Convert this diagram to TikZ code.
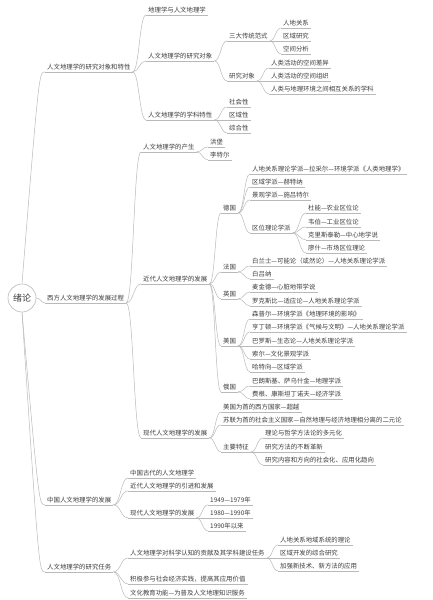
\documentclass[tikz,border=0pt]{standalone}
\usepackage{fontspec}
\setmainfont{Noto Sans CJK SC}
\usetikzlibrary{calc}
\definecolor{linegray}{RGB}{185,185,185}
\definecolor{textgray}{RGB}{60,60,60}

\begin{document}
\begin{tikzpicture}[
        x=1pt,
        y=-1pt,
        topic/.style={
          anchor=west,
          font=\fontsize{6.4}{7}\selectfont,
          text=textgray,
          text height=5.4pt,
          text depth=1pt,
          inner xsep=2pt,
          inner ysep=1.5pt,
          append after command={
            (\tikzlastnode.south west) edge[draw=linegray,line width=0.5pt] (\tikzlastnode.south east)
          }
        },
        hub/.style={
          circle,
          draw=linegray,
          line width=0.6pt,
          minimum size=28pt,
          inner sep=0pt,
          font=\fontsize{9}{10}\selectfont,
          text=textgray
        },
        link/.style={
          draw=linegray,
          line width=0.5pt
        },
        branch/.style={
          to path={.. controls ($(\tikztostart)!0.5!(\tikztotarget|-\tikztostart)$)
            and ($(\tikztotarget)!0.5!(\tikztostart|-\tikztotarget)$) .. (\tikztotarget)}
        },
        trunk/.style={
          to path={.. controls ($(\tikztotarget)+(-6,0)$) .. (\tikztotarget)}
        }
      ]
        \useasboundingbox (0,0) rectangle (432,600);

        \node[hub] (root) at (22,298) {绪论};

        \node[topic] (t1) at (45,67) {人文地理学的研究对象和特性};
        \node[topic] (t2) at (45,298) {西方人文地理学的发展过程};
        \node[topic] (t3) at (45,500) {中国人文地理学的发展};
        \node[topic] (t4) at (45,567) {人文地理学的研究任务};

        \draw[link] (root.north) to[trunk] (t1.south west);
        \draw[link] (root.east) to[branch] (t2.south west);
        \draw[link] (root.south) to[trunk] (t3.south west);
        \draw[link] (root.south) to[trunk] (t4.south west);

        % 研究对象和特性
        \foreach \i/\y/\l in {1/10/地理学与人文地理学,2/56/人文地理学的研究对象,3/115/人文地理学的学科特性}
          \node[topic] (obj\i) at (146,\y) {\l};
        \node[topic] (para) at (227,36) {三大传统范式};
        \node[topic] (aim) at (227,76) {研究对象};
        \foreach \i/\y/\l in {1/23/人地关系,2/36/区域研究,3/49/空间分析}
          \node[topic] (para\i) at (281,\y) {\l};
        \foreach \i/\y/\l in {1/63/人类活动的空间差异,2/76/人类活动的空间组织,3/89/人类与地理环境之间相互关系的学科}
          \node[topic] (aim\i) at (269,\y) {\l};
        \foreach \i/\y/\l in {1/102/社会性,2/115/区域性,3/128/综合性}
          \node[topic] (feat\i) at (227,\y) {\l};

        \foreach \i in {1,2,3}
          \draw[link] (t1.south east) to[branch] (obj\i.south west);
        \draw[link] (obj2.south east) to[branch] (para.south west);
        \draw[link] (obj2.south east) to[branch] (aim.south west);
        \foreach \i in {1,2,3} {
          \draw[link] (para.south east) to[branch] (para\i.south west);
          \draw[link] (aim.south east) to[branch] (aim\i.south west);
          \draw[link] (obj3.south east) to[branch] (feat\i.south west);
        }

        % 西方人文地理学
        \foreach \i/\y/\l in {1/147/人文地理学的产生,2/279/近代人文地理学的发展,3/433/现代人文地理学的发展}
          \node[topic] (west\i) at (141,\y) {\l};
        \foreach \i/\y/\l in {1/142/洪堡,2/155/李特尔}
          \node[topic] (birth\i) at (208,\y) {\l};
        \foreach \i/\y/\l in {1/208/德国,2/267/法国,3/294/英国,4/341/美国,5/387/俄国}
          \node[topic] (land\i) at (221,\y) {\l};
        \foreach \i/\y/\l in {1/169/人地关系理论学派—拉采尔—环境学派《人类地理学》,2/182/区域学派—赫特纳,3/195/景观学派—施吕特尔,4/228/区位理论学派}
          \node[topic] (ger\i) at (250,\y) {\l};
        \foreach \i/\y/\l in {1/208/杜能—农业区位论,2/222/韦伯—工业区位论,3/235/克里斯泰勒—中心地学说,4/248/廖什—市场区位理论}
          \node[topic] (loc\i) at (306,\y) {\l};
        \foreach \i/\y/\l in {1/261/白兰士—可能论（或然论）—人地关系理论学派,2/274/白吕纳}
          \node[topic] (fra\i) at (250,\y) {\l};
        \foreach \i/\y/\l in {1/287/麦金德—心脏地带学说,2/301/罗克斯比—适应论—人地关系理论学派}
          \node[topic] (eng\i) at (250,\y) {\l};
        \foreach \i/\y/\l in {1/314/森普尔—环境学派《地理环境的影响》,2/327/亨丁顿—环境学派《气候与文明》—人地关系理论学派,3/341/巴罗斯—生态论—人地关系理论学派,4/354/索尔—文化景观学派,5/367/哈特向—区域学派}
          \node[topic] (usa\i) at (250,\y) {\l};
        \foreach \i/\y/\l in {1/381/巴朗斯基、萨乌什金—地理学派,2/394/费根、康斯坦丁诺夫—经济学派}
          \node[topic] (rus\i) at (250,\y) {\l};
        \foreach \i/\y/\l in {1/407/美国为首的西方国家—超越,2/420/苏联为首的社会主义国家—自然地理与经济地理相分离的二元论,3/447/主要特征}
          \node[topic] (mod\i) at (221,\y) {\l};
        \foreach \i/\y/\l in {1/433/理论与哲学方法论的多元化,2/447/研究方法的不断革新,3/460/研究内容和方向的社会化、应用化趋向}
          \node[topic] (trait\i) at (263,\y) {\l};

        \foreach \i in {1,2,3}
          \draw[link] (t2.south east) to[branch] (west\i.south west);
        \foreach \i in {1,2}
          \draw[link] (west1.south east) to[branch] (birth\i.south west);
        \foreach \i in {1,...,5}
          \draw[link] (west2.south east) to[branch] (land\i.south west);
        \foreach \i in {1,...,4} {
          \draw[link] (land1.south east) to[branch] (ger\i.south west);
          \draw[link] (ger4.south east) to[branch] (loc\i.south west);
        }
        \foreach \i in {1,2} {
          \draw[link] (land2.south east) to[branch] (fra\i.south west);
          \draw[link] (land3.south east) to[branch] (eng\i.south west);
          \draw[link] (land5.south east) to[branch] (rus\i.south west);
        }
        \foreach \i in {1,...,5}
          \draw[link] (land4.south east) to[branch] (usa\i.south west);
        \foreach \i in {1,2,3} {
          \draw[link] (west3.south east) to[branch] (mod\i.south west);
          \draw[link] (mod3.south east) to[branch] (trait\i.south west);
        }

        % 中国人文地理学
        \foreach \i/\y/\l in {1/473/中国古代的人文地理学,2/486/近代人文地理学的引进和发展,3/513/现代人文地理学的发展}
          \node[topic] (cn\i) at (128,\y) {\l};
        \foreach \i/\y/\l in {1/500/1949—1979年,2/513/1980—1990年,3/526/1990年以来}
          \node[topic] (yr\i) at (208,\y) {\l};
        \foreach \i in {1,2,3} {
          \draw[link] (t3.south east) to[branch] (cn\i.south west);
          \draw[link] (cn3.south east) to[branch] (yr\i.south west);
        }

        % 研究任务
        \foreach \i/\y/\l in {1/553/人文地理学对科学认知的贡献及其学科建设任务,2/579/积极参与社会经济实践，提高其应用价值,3/593/文化教育功能—为普及人文地理知识服务}
          \node[topic] (task\i) at (128,\y) {\l};
        \foreach \i/\y/\l in {1/540/人地关系地域系统的理论,2/553/区域开发的综合研究,3/566/加强新技术、新方法的应用}
          \node[topic] (sub\i) at (278,\y) {\l};
        \foreach \i in {1,2,3} {
          \draw[link] (t4.south east) to[branch] (task\i.south west);
          \draw[link] (task1.south east) to[branch] (sub\i.south west);
        }
      \end{tikzpicture}
\end{document}
